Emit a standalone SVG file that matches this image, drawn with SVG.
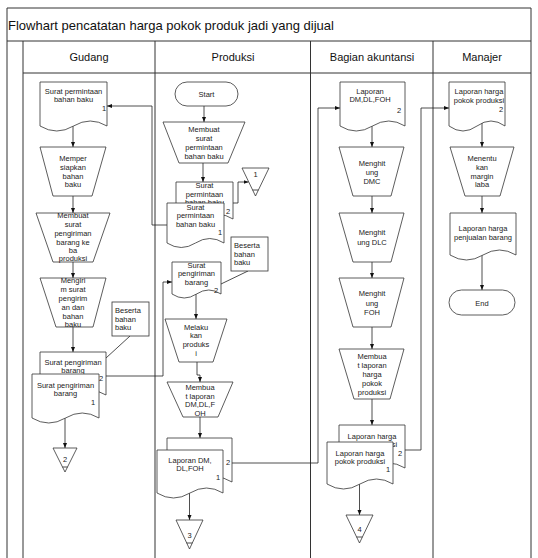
<svg xmlns="http://www.w3.org/2000/svg" width="538" height="558" viewBox="0 0 538 558">
<style>
.lane{stroke:#333;stroke-width:1;fill:none}
.sh{fill:#fff;stroke:#333;stroke-width:0.8}
.cn{fill:none;stroke:#222;stroke-width:0.8}
.t{font-family:"Liberation Sans",Arial,sans-serif;font-size:7.5px;fill:#222;text-anchor:middle}
.tl{font-family:"Liberation Sans",Arial,sans-serif;font-size:7.5px;fill:#222}
.hd{font-family:"Liberation Sans",Arial,sans-serif;font-size:11px;fill:#111;text-anchor:middle}
.ti{font-family:"Liberation Sans",Arial,sans-serif;font-size:13px;fill:#111}
</style>
<defs>
<marker id="ah" viewBox="0 0 10 10" refX="10" refY="5" markerWidth="5" markerHeight="5" markerUnits="userSpaceOnUse" orient="auto"><path d="M0,1 L10,5 L0,9 Z" fill="#111"/></marker>
</defs>
<rect width="538" height="558" fill="#fff"/>
<g id="frame">
<path class="lane" d="M7,558 V8 H531 V558 M7,41 H531 M23,73 H531 M23,41 V558 M155,41 V558 M310.5,41 V558 M433,41 V558"/>
<text class="ti" x="8" y="30">Flowhart pencatatan harga pokok produk jadi yang dijual</text>
<text class="hd" x="89" y="61">Gudang</text>
<text class="hd" x="233" y="61">Produksi</text>
<text class="hd" x="372" y="61">Bagian akuntansi</text>
<text class="hd" x="482" y="61">Manajer</text>
</g>
<g id="connectors">
<path class="cn" marker-end="url(#ah)" d="M204,106 V122"/>
<path class="cn" marker-end="url(#ah)" d="M203,163 V182"/>
<path class="cn" marker-end="url(#ah)" d="M233,203 H238 V182 H248.5"/>
<path class="cn" marker-end="url(#ah)" d="M167,225 H152 V106 H107"/>
<path class="cn" marker-end="url(#ah)" d="M73,126 V147"/>
<path class="cn" marker-end="url(#ah)" d="M73,196 V213"/>
<path class="cn" marker-end="url(#ah)" d="M73,262 V278"/>
<path class="cn" marker-end="url(#ah)" d="M73,327 V352"/>
<path class="cn" marker-end="url(#ah)" d="M106,376 H163 V282 H172"/>
<path class="cn" marker-end="url(#ah)" d="M65,418 V448"/>
<path class="cn" marker-end="url(#ah)" d="M196,294 V319"/>
<path class="cn" marker-end="url(#ah)" d="M197,362 V375 H200 V382"/>
<path class="cn" marker-end="url(#ah)" d="M200,417 V438"/>
<path class="cn" marker-end="url(#ah)" d="M232,463 H318 V108 H340"/>
<path class="cn" marker-end="url(#ah)" d="M189.5,493 V520"/>
<path class="cn" marker-end="url(#ah)" d="M372,126 V147"/>
<path class="cn" marker-end="url(#ah)" d="M372,196 V213"/>
<path class="cn" marker-end="url(#ah)" d="M372,262 V278"/>
<path class="cn" marker-end="url(#ah)" d="M372,327 V349"/>
<path class="cn" marker-end="url(#ah)" d="M372,399 V425"/>
<path class="cn" marker-end="url(#ah)" d="M405,450 H421 V108 H449"/>
<path class="cn" marker-end="url(#ah)" d="M359.5,484 V515"/>
<path class="cn" marker-end="url(#ah)" d="M482,123 V147"/>
<path class="cn" marker-end="url(#ah)" d="M482,196 V213"/>
<path class="cn" marker-end="url(#ah)" d="M482,255 V290"/>
<path class="cn" d="M130,336 L106,358"/>
<path class="cn" d="M248,271 L221,284"/>
</g>
<g id="g-doc-permintaan">
<path class="sh" d="M40,82 H107 V126 Q90.25,116 73.5,126 T40,126 Z"/>
<text class="t" x="73.5" y="93.7">Surat permintaan</text>
<text class="t" x="73.5" y="101.7">bahan baku</text>
<text class="t" x="104" y="110.7">1</text>
</g>
<g id="g-mempersiapkan">
<polygon class="sh" points="40,147 106,147 92,196 53,196"/>
<text class="t" x="73" y="160.7">Memper</text>
<text class="t" x="73" y="169.7">siapkan</text>
<text class="t" x="73" y="178.7">bahan</text>
<text class="t" x="73" y="186.7">baku</text>
</g>
<g id="g-membuat-surat">
<polygon class="sh" points="36,213 110,213 93,262 53,262"/>
<text class="t" x="73" y="217.7">Membuat</text>
<text class="t" x="73" y="226.7">surat</text>
<text class="t" x="73" y="235.7">pengiriman</text>
<text class="t" x="73" y="244.7">barang ke</text>
<text class="t" x="73" y="252.7">ba</text>
<text class="t" x="73" y="260.7">produksi</text>
</g>
<g id="g-mengirim">
<polygon class="sh" points="40,278 106,278 93,327 56,327"/>
<text class="t" x="73" y="282.7">Mengiri</text>
<text class="t" x="73" y="291.7">m surat</text>
<text class="t" x="73" y="300.7">pengirim</text>
<text class="t" x="73" y="309.7">an dan</text>
<text class="t" x="73" y="318.7">bahan</text>
<text class="t" x="73" y="326.7">baku</text>
</g>
<g id="g-beserta">
<rect class="sh" x="112" y="302" width="37" height="34"/>
<text class="tl" x="115" y="312.7">Beserta</text>
<text class="tl" x="115" y="321.7">bahan</text>
<text class="tl" x="115" y="329.7">baku</text>
</g>
<g id="g-doc-pengiriman">
<path class="sh" d="M40,352 H106 V395 Q89.5,385 73,395 T40,395 Z"/>
<text class="t" x="73" y="364.7">Surat pengiriman</text>
<text class="t" x="73" y="372.7">barang</text>
<text class="t" x="101" y="380.7">2</text>
<path class="sh" d="M32,374 H99 V418 Q82.25,408 65.5,418 T32,418 Z"/>
<text class="t" x="65.5" y="387.7">Surat pengiriman</text>
<text class="t" x="65.5" y="395.7">barang</text>
<text class="t" x="93" y="404.7">1</text>
</g>
<g id="g-off2">
<polygon class="sh" points="53,448 77,448 65,472"/>
<path class="cn" d="M62.5,467 H67.5"/>
<text class="t" x="65" y="461.7">2</text>
</g>
<g id="p-start">
<rect class="sh" x="175" y="82" width="63" height="24" rx="12"/>
<text class="t" x="206.5" y="96.7">Start</text>
</g>
<g id="p-membuat-surat">
<polygon class="sh" points="163,122 245,122 228,163 179,163"/>
<text class="t" x="204" y="131.7">Membuat</text>
<text class="t" x="204" y="140.7">surat</text>
<text class="t" x="204" y="149.7">permintaan</text>
<text class="t" x="204" y="158.7">bahan baku</text>
</g>
<g id="p-doc-permintaan">
<path class="sh" d="M176,182 H233 V219 Q218.75,210 204.5,219 T176,219 Z"/>
<text class="t" x="204.5" y="187.7">Surat</text>
<text class="t" x="204.5" y="196.7">permintaan</text>
<text class="t" x="204.5" y="204.7">bahan baku</text>
<text class="t" x="228" y="213.7">2</text>
<path class="sh" d="M167,203 H224 V243 Q209.75,234 195.5,243 T167,243 Z"/>
<text class="t" x="195.5" y="209.7">Surat</text>
<text class="t" x="195.5" y="217.7">permintaan</text>
<text class="t" x="195.5" y="226.7">bahan baku</text>
<text class="t" x="220" y="234.7">1</text>
</g>
<g id="p-off1">
<polygon class="sh" points="242,168 269,168 255.5,196"/>
<path class="cn" d="M252.6,190 H258.4"/>
<text class="t" x="255.5" y="176.7">1</text>
</g>
<g id="p-beserta">
<rect class="sh" x="231" y="237" width="37" height="34"/>
<text class="tl" x="234" y="247.7">Beserta</text>
<text class="tl" x="234" y="256.7">bahan</text>
<text class="tl" x="234" y="264.7">baku</text>
</g>
<g id="p-doc-pengiriman">
<path class="sh" d="M172,262 H221 V294 Q208.75,286 196.5,294 T172,294 Z"/>
<text class="t" x="196.5" y="267.7">Surat</text>
<text class="t" x="196.5" y="275.7">pengiriman</text>
<text class="t" x="196.5" y="284.7">barang</text>
<text class="t" x="216" y="292.7">2</text>
</g>
<g id="p-melakukan">
<polygon class="sh" points="165,319 227,319 213,362 179,362"/>
<text class="t" x="196" y="329.7">Melaku</text>
<text class="t" x="196" y="337.7">kan</text>
<text class="t" x="196" y="346.7">produks</text>
<text class="t" x="196" y="355.7">i</text>
</g>
<g id="p-membuat-laporan">
<polygon class="sh" points="167,382 233,382 218,417 183,417"/>
<text class="t" x="200" y="389.7">Membua</text>
<text class="t" x="200" y="398.7">t laporan</text>
<text class="t" x="200" y="406.7">DM,DL,F</text>
<text class="t" x="200" y="415.7">OH</text>
</g>
<g id="p-doc-laporan">
<path class="sh" d="M167,438 H232 V482 Q215.75,472 199.5,482 T167,482 Z"/>
<text class="t" x="228" y="464.7">2</text>
<path class="sh" d="M157,450 H223 V493 Q206.5,483 190,493 T157,493 Z"/>
<text class="t" x="190" y="462.7">Laporan DM,</text>
<text class="t" x="190" y="470.7">DL,FOH</text>
<text class="t" x="218" y="479.7">1</text>
</g>
<g id="p-off3">
<polygon class="sh" points="176,520 203,520 189.5,549"/>
<path class="cn" d="M186.7,543 H192.3"/>
<text class="t" x="189.5" y="537.7">3</text>
</g>
<g id="b-doc-laporan">
<path class="sh" d="M340,82 H405 V126 Q388.75,116 372.5,126 T340,126 Z"/>
<text class="t" x="370" y="93.7">Laporan</text>
<text class="t" x="370" y="101.7">DM,DL,FOH</text>
<text class="t" x="399" y="112.7">2</text>
</g>
<g id="b-dmc">
<polygon class="sh" points="339,147 404,147 391,196 353,196"/>
<text class="t" x="372" y="165.7">Menghit</text>
<text class="t" x="372" y="174.7">ung</text>
<text class="t" x="372" y="183.7">DMC</text>
</g>
<g id="b-dlc">
<polygon class="sh" points="339,213 404,213 391,262 353,262"/>
<text class="t" x="372" y="234.7">Menghit</text>
<text class="t" x="372" y="244.7">ung DLC</text>
</g>
<g id="b-foh">
<polygon class="sh" points="339,278 404,278 391,327 353,327"/>
<text class="t" x="372" y="295.7">Menghit</text>
<text class="t" x="372" y="305.7">ung</text>
<text class="t" x="372" y="314.7">FOH</text>
</g>
<g id="b-membuat-laporan">
<polygon class="sh" points="339,349 404,349 390,399 354,399"/>
<text class="t" x="372" y="358.7">Membua</text>
<text class="t" x="372" y="367.7">t laporan</text>
<text class="t" x="372" y="376.7">harga</text>
<text class="t" x="372" y="385.7">pokok</text>
<text class="t" x="372" y="394.7">produksi</text>
</g>
<g id="b-doc-hpp">
<path class="sh" d="M339,425 H405 V468 Q388.5,458 372,468 T339,468 Z"/>
<text class="t" x="372" y="438.7">Laporan harga</text>
<text class="t" x="372" y="446.7">pokok produksi</text>
<text class="t" x="400" y="455.7">2</text>
<path class="sh" d="M327,442 H393 V484 Q376.5,474 360,484 T327,484 Z"/>
<text class="t" x="360" y="455.7">Laporan harga</text>
<text class="t" x="360" y="463.7">pokok produksi</text>
<text class="t" x="388" y="471.7">1</text>
</g>
<g id="b-off4">
<polygon class="sh" points="346,515 373,515 359.5,543"/>
<path class="cn" d="M356.6,537 H362.4"/>
<text class="t" x="359.5" y="531.7">4</text>
</g>
<g id="m-doc-hpp">
<path class="sh" d="M449,82 H505 V126 Q491,116 477,126 T449,126 Z"/>
<text class="t" x="479" y="93.7">Laporan harga</text>
<text class="t" x="479" y="102.7">pokok produksi</text>
<text class="t" x="501" y="111.7">2</text>
</g>
<g id="m-margin">
<polygon class="sh" points="450,147 514,147 500,196 465,196"/>
<text class="t" x="482" y="160.7">Menentu</text>
<text class="t" x="482" y="169.7">kan</text>
<text class="t" x="482" y="178.7">margin</text>
<text class="t" x="482" y="186.7">laba</text>
</g>
<g id="m-doc-penjualan">
<path class="sh" d="M450,213 H516 V255 Q499.5,245 483,255 T450,255 Z"/>
<text class="t" x="483" y="230.7">Laporan harga</text>
<text class="t" x="483" y="239.7">penjualan barang</text>
</g>
<g id="m-end">
<rect class="sh" x="449" y="290" width="66" height="25" rx="12.5"/>
<text class="t" x="482" y="305.7">End</text>
</g>
</svg>
